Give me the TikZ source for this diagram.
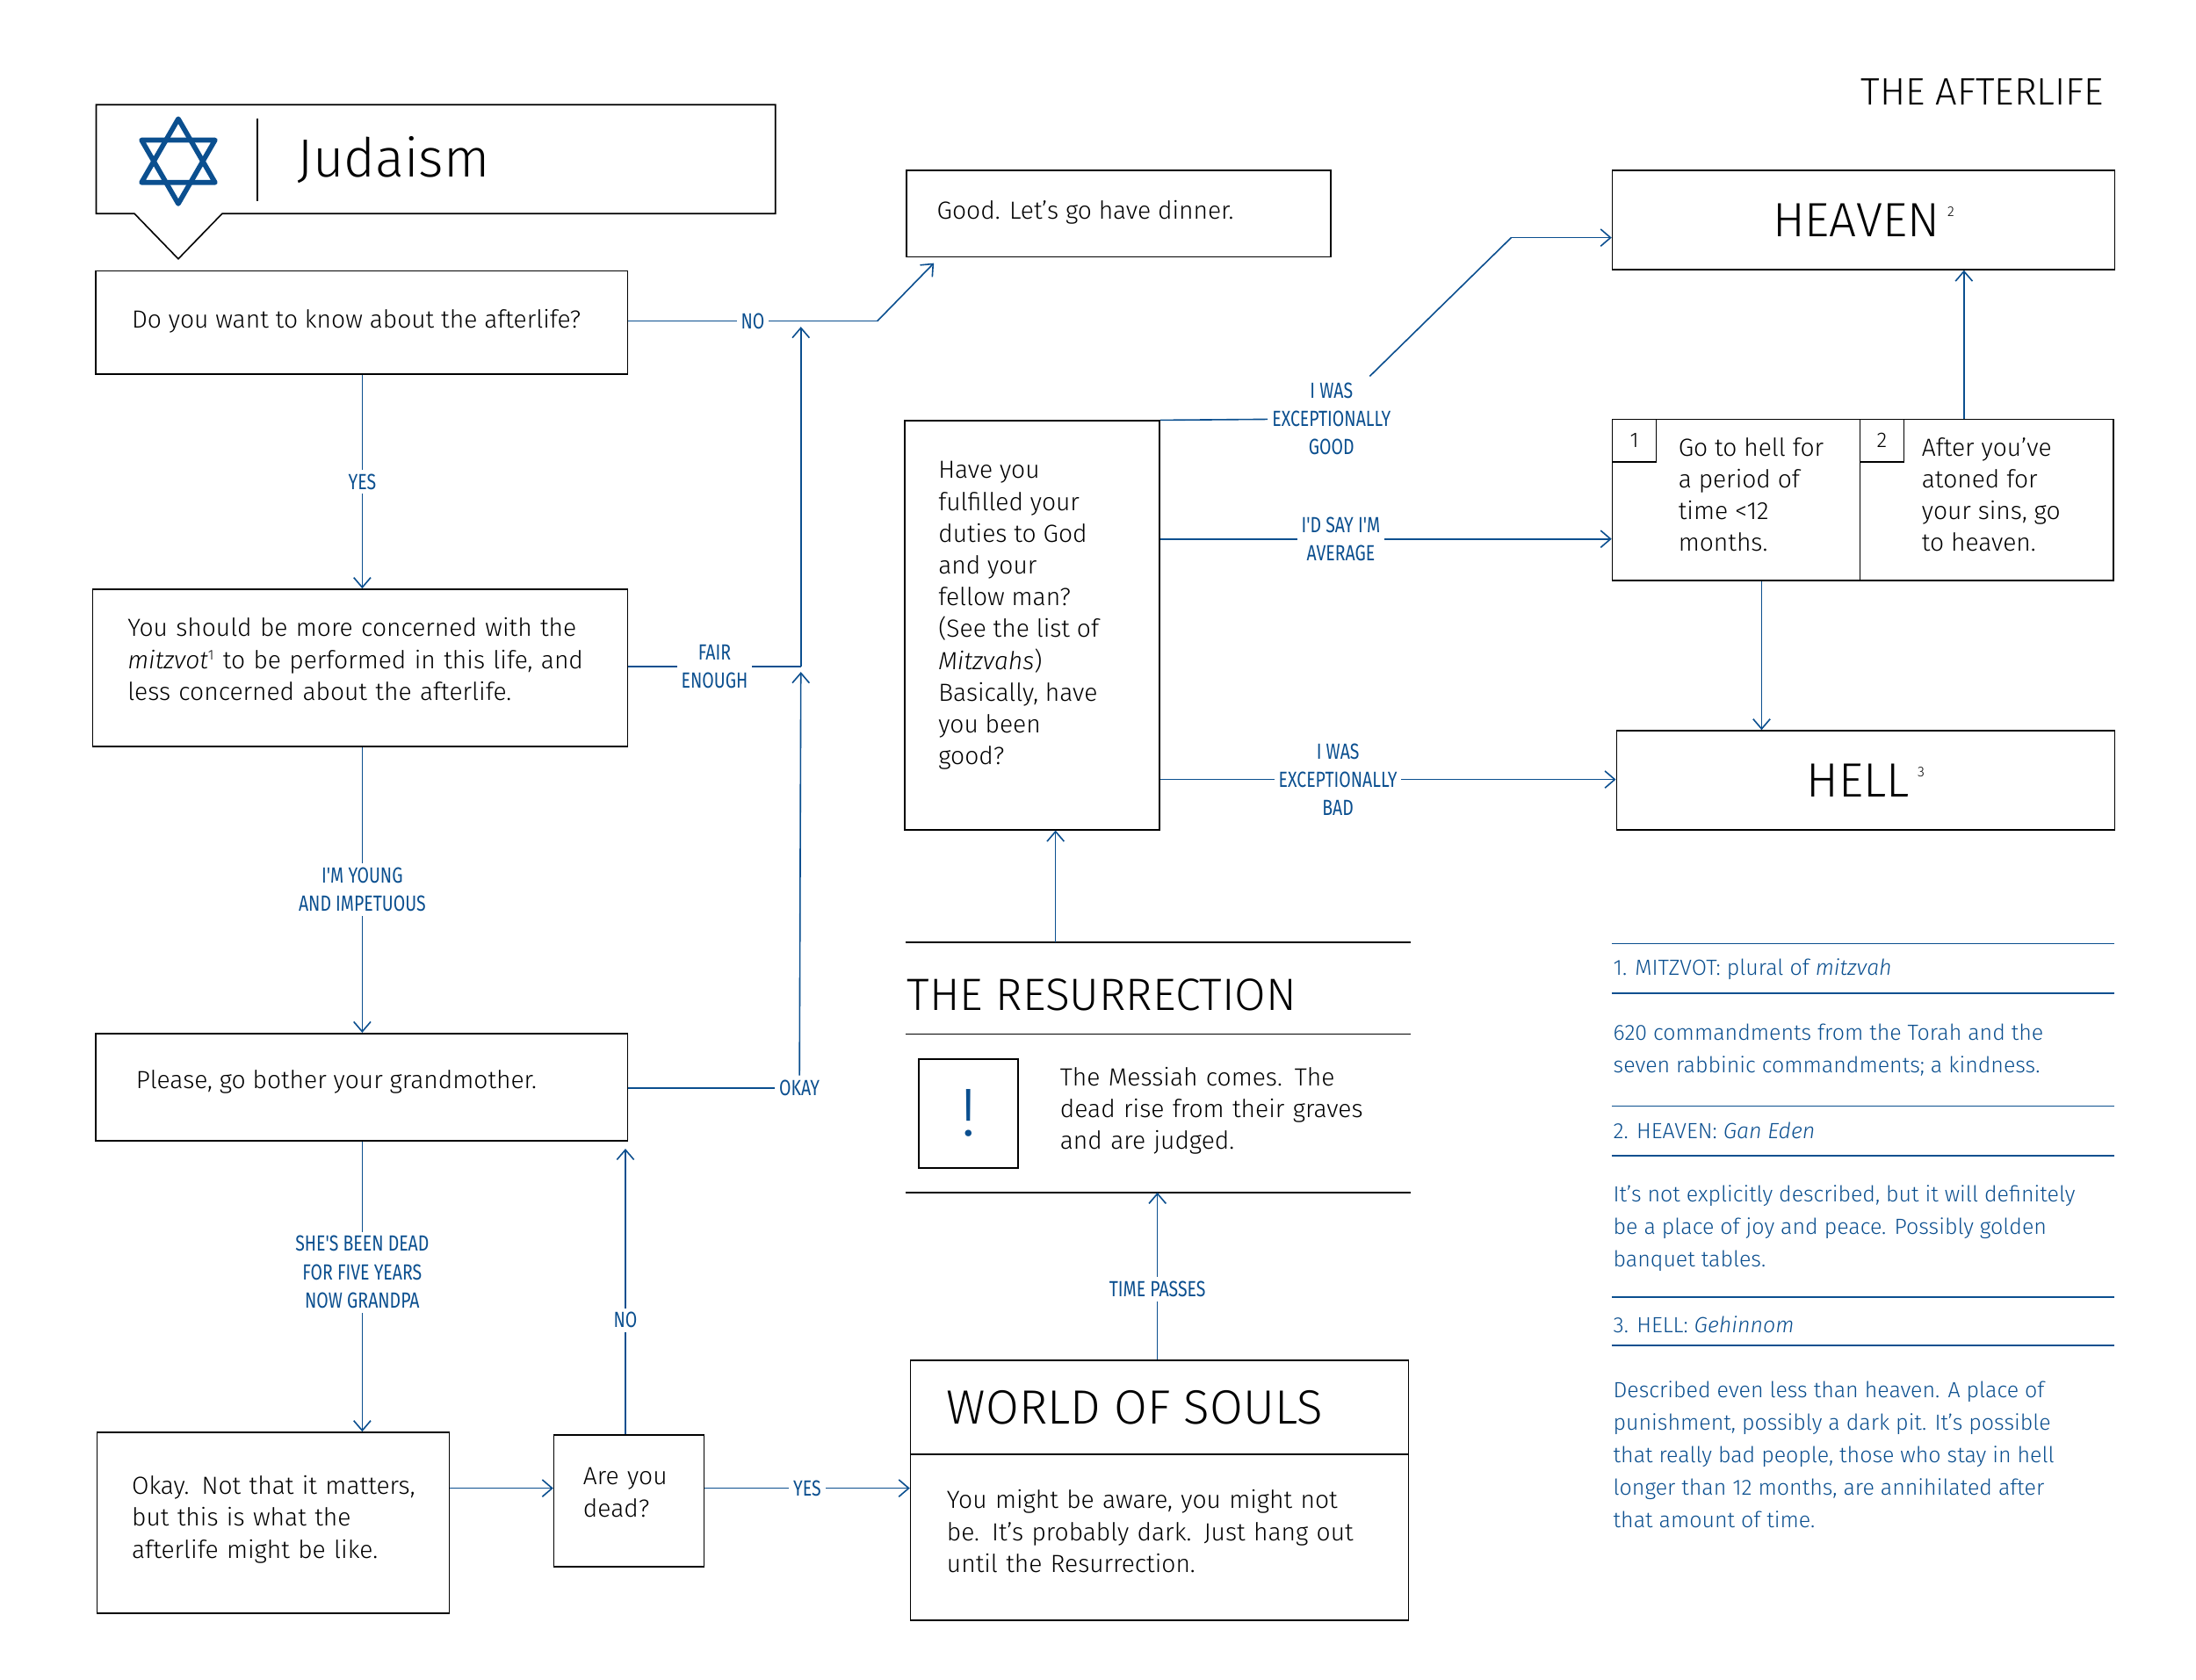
\documentclass[tikz,border=0pt]{standalone}
\usepackage{fontspec}
\setmainfont{Fira Sans Light}
\newfontfamily\cond[FakeStretch=0.78]{Fira Sans}
\usetikzlibrary{arrows.meta,positioning}
\definecolor{jblue}{HTML}{0B4F8F}
\tikzset{
  box/.style={draw,line width=1pt,anchor=north west,inner sep=0pt,font=\fontsize{17.5}{22.5}\selectfont},
  txt/.style={anchor=north west,inner sep=0pt,align=left,font=\fontsize{17.5}{22.5}\selectfont,execute at begin node={\hyphenpenalty=10000 }},
  lbl/.style={fill=white,text=jblue,inner sep=3pt,align=center,font=\cond\fontsize{15.5}{20}\selectfont},
  con/.style={jblue,line width=1pt},
  arr/.style={con,-{Straight Barb[length=7pt,width=12pt]}},
  note/.style={anchor=west,text=jblue,inner sep=0pt,font=\fontsize{15.5}{23}\selectfont,align=left},
  big/.style={inner sep=0pt,font=\fontsize{34}{40}\selectfont}
}
\newcommand{\fn}[1]{\textsuperscript{\fontsize{10}{10}\selectfont #1}}
\newcommand{\bigfn}[1]{\,\raisebox{14pt}{\fontsize{10}{10}\selectfont #1}}
\begin{document}
\begin{tikzpicture}[x=1pt,y=-1pt]
\useasboundingbox (0,0) rectangle (1552,1187);
% title and header
\node[big,anchor=east,font=\fontsize{27}{30}\selectfont] (title) at (1487,65) {THE AFTERLIFE};
\draw[line width=1pt] (68,74) -- (548,74) -- (548,151) -- (157,151) -- (126,183) -- (95,151) -- (68,151) -- cycle;
\draw[jblue,line width=3.5pt,line join=round] (126,84) -- (152,129) -- (100,129) -- cycle;
\draw[jblue,line width=3.5pt,line join=round] (126,144) -- (152,99) -- (100,99) -- cycle;
\draw[line width=1pt] (182,84) -- (182,142);
\node[big,anchor=west,font=\fontsize{38}{40}\selectfont] (judaism) at (210,113) {Judaism};

% left column
\node[box,minimum width=376pt,minimum height=73pt] (want) at (67,191) {};
\node[txt,anchor=west] at (93,227) {Do you want to know about the afterlife?};
\node[box,minimum width=300pt,minimum height=61pt] (dinner) at (640,120) {};
\node[txt,anchor=west] at (662,150) {Good. Let's go have dinner.};
\node[box,minimum width=378pt,minimum height=111pt] (concern) at (65,416) {};
\node[txt,text width=340pt,anchor=west] at (90,466) {You should be more concerned with the \textit{mitzvot}\fn{1} to be performed in this life, and less concerned about the afterlife.};
\node[box,minimum width=376pt,minimum height=76pt] (grandma) at (67,730) {};
\node[txt,anchor=west] at (96,765) {Please, go bother your grandmother.};
\node[box,minimum width=249pt,minimum height=128pt] (okay) at (68,1012) {};
\node[txt,text width=215pt,anchor=west] at (93,1074) {Okay. Not that it matters, but this is what the afterlife might be like.};
\node[box,minimum width=106pt,minimum height=93pt] (dead) at (391,1014) {};
\node[txt,text width=70pt,anchor=west] at (412,1055) {Are you dead?};

\coordinate (nobend) at (620,227);
\draw[con] (want.east |- 0,227) -- node[lbl]{NO} (nobend);
\draw[arr] (nobend) -- (660,186);
\draw[arr] (want.south -| 256,0) -- node[lbl]{YES} (concern.north -| 256,0);
\draw[con] (concern.east |- 0,471) -- node[lbl]{FAIR\\ENOUGH} (566,471);
\draw[arr] (566,471) -- (566,231);
\draw[arr] (concern.south -| 256,0) -- node[lbl]{I'M YOUNG\\AND IMPETUOUS} (grandma.north -| 256,0);
\node[lbl] (okaylbl) at (565,769) {OKAY};
\draw[con] (grandma.east |- okaylbl) -- (okaylbl);
\draw[arr] (okaylbl) -- (566,475);
\draw[arr] (grandma.south -| 256,0) -- node[lbl,pos=0.45]{SHE'S BEEN DEAD\\FOR FIVE YEARS\\NOW GRANDPA} (okay.north -| 256,0);
\draw[arr] (okay.east |- 0,1052) -- (dead.west |- 0,1052);
\draw[arr] (dead.north -| 442,0) -- node[lbl,pos=0.4]{NO} (442,812);

% middle column
\node[box,minimum width=352pt,minimum height=184pt] (souls) at (643,961) {};
\draw[line width=1pt] (643,1028) -- (995,1028);
\node[big,anchor=west] (soulsttl) at (669,995) {WORLD OF SOULS};
\node[txt,text width=300pt] (soulstxt) at (669,1053) {You might be aware, you might not be. It's probably dark. Just hang out until the Resurrection.};
\draw[arr] (dead.east |- 0,1052) -- node[lbl]{YES} (souls.west |- 0,1052);

\draw[line width=1pt] (640,666) -- (997,666);
\draw[line width=1pt] (640,731) -- (997,731);
\draw[line width=1pt] (640,843) -- (997,843);
\node[big,anchor=west,font=\fontsize{32}{36}\selectfont] (resttl) at (641,703) {THE RESURRECTION};
\node[box,minimum width=70pt,minimum height=77pt,text=jblue,font=\fontsize{48}{48}\selectfont] (bang) at (649,748) {!};
\node[txt,text width=230pt] (restxt) at (749,754) {The Messiah comes. The dead rise from their graves and are judged.};
\draw[arr] (souls.north -| 818,0) -- node[lbl,pos=0.42]{TIME PASSES} (818,843);

\node[box,minimum width=180pt,minimum height=289pt] (good) at (639,297) {};
\node[txt] (goodtxt) at (663,326) {Have you\\fulfilled your\\duties to God\\and your\\fellow man?\\(See the list of\\\textit{Mitzvahs})\\Basically, have\\you been\\good?};
\draw[arr] (746,666) -- (good.south -| 746,0);

% right column
\node[box,minimum width=355pt,minimum height=70pt,font=\fontsize{34}{40}\selectfont] (heaven) at (1139,120) {HEAVEN\bigfn{2}};
\node[box,minimum width=352pt,minimum height=70pt,font=\fontsize{34}{40}\selectfont] (hell) at (1142,516) {HELL\bigfn{3}};
\node[box,minimum width=175pt,minimum height=114pt] (period) at (1139,296) {};
\node[txt] (periodtxt) at (1186,309) {Go to hell for\\a period of\\time <12\\months.};
\node[box,minimum width=179pt,minimum height=114pt] (atoned) at (1314,296) {};
\node[txt] (atonedtxt) at (1358,309) {After you've\\atoned for\\your sins, go\\to heaven.};
\node[box,minimum width=31pt,minimum height=30pt,font=\fontsize{15}{15}\selectfont] (one) at (1139,296) {1};
\node[box,minimum width=31pt,minimum height=30pt,font=\fontsize{15}{15}\selectfont] (two) at (1314,296) {2};
\draw[arr] (atoned.north -| 1388,0) -- (heaven.south -| 1388,0);
\draw[arr] (period.south -| 1245,0) -- (hell.north -| 1245,0);

\coordinate (goodbend) at (1068,168);
\node[lbl] (exgood) at (941,296) {I WAS\\EXCEPTIONALLY\\GOOD};
\draw[con] (good.north east) -- (exgood);
\draw[con] (968,266) -- (goodbend);
\draw[arr] (goodbend) -- (heaven.west |- goodbend);
\draw[arr] (good.east |- 0,381) -- node[lbl,pos=0.4]{I'D SAY I'M\\AVERAGE} (period.west |- 0,381);
\draw[arr] (good.east |- 0,551) -- node[lbl,pos=0.39]{I WAS\\EXCEPTIONALLY\\BAD} (hell.west |- 0,551);

% footnotes
\foreach \yy in {667,702,782,817,917,951}
  \draw[con] (1139,\yy) -- (1494,\yy);
\node[note] (n1) at (1140,685) {1. MITZVOT: plural of \textit{mitzvah}};
\node[note] (n1t) at (1140,742) {620 commandments from the Torah and the\\seven rabbinic commandments; a kindness.};
\node[note] (n2) at (1140,799) {2. HEAVEN: \textit{Gan Eden}};
\node[note] (n2t) at (1140,868) {It's not explicitly described, but it will definitely\\be a place of joy and peace. Possibly golden\\banquet tables.};
\node[note] (n3) at (1140,936) {3. HELL: \textit{Gehinnom}};
\node[note] (n3t) at (1140,1028) {Described even less than heaven. A place of\\punishment, possibly a dark pit. It's possible\\that really bad people, those who stay in hell\\longer than 12 months, are annihilated after\\that amount of time.};
\end{tikzpicture}
\end{document}
